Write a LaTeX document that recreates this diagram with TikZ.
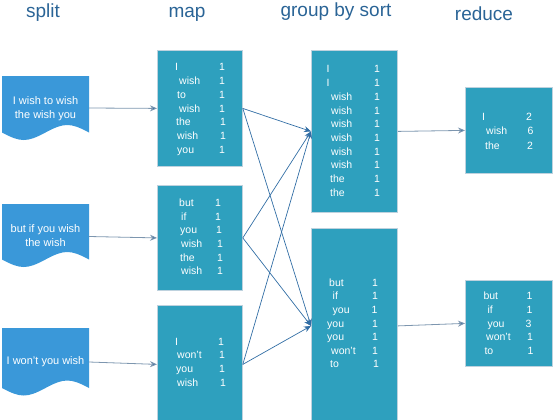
\documentclass[tikz,border=0pt]{standalone}
\usepackage{fontspec}
\setmainfont{Liberation Sans}
\usetikzlibrary{arrows.meta}
\definecolor{titleblue}{RGB}{42,100,150}
\definecolor{boxteal}{RGB}{46,160,190}
\definecolor{boxedge}{RGB}{190,210,222}
\definecolor{docblue}{RGB}{58,152,217}
\definecolor{arrowblue}{RGB}{50,110,165}
\definecolor{docline}{RGB}{125,150,175}
\tikzset{
  title/.style={text=titleblue, font=\fontsize{19}{21}\selectfont, inner sep=0pt},
  stagebox/.style={draw=boxedge, line width=0.8pt, fill=boxteal, anchor=north west, inner sep=0pt},
  doctext/.style={text=white, font=\fontsize{11}{13.5}\selectfont, align=center, inner sep=0pt},
  cell/.style={text=white, font=\fontsize{10.5}{12}\selectfont, inner sep=0pt, anchor=base west},
  docshape/.style={fill=docblue, draw=none},
  link/.style={draw=arrowblue, line width=0.7pt, -{Stealth[length=7pt,width=6pt]}},
  doclink/.style={draw=docline, line width=0.8pt, -{Stealth[length=7pt,width=6pt,fill=arrowblue]}}
}
\newcommand\docpath[2]{% top, bottom-mid
  \fill[docshape] (2,#1) -- (89,#1) -- (89,#2)
    .. controls (70.5,#2-10) and (64,#2-10) .. (45.5,#2)
    .. controls (27,#2+10) and (20.5,#2+10) .. (2,#2) -- cycle;}
\begin{document}
\begin{tikzpicture}[x=1pt,y=-1pt]
\useasboundingbox (0,0) rectangle (554,420);

% titles
\node[title] (tsplit) at (43,13) {split};
\node[title] (tmap) at (187,14) {map};
\node[title] (tgroup) at (336,12) {group by sort};
\node[title] (treduce) at (484,14) {reduce};

% documents (split)
\docpath{76}{132.5}
\docpath{204}{259.5}
\docpath{328}{388}
\node[doctext] (d1) at (45.5,108.5) {I wish to wish\\the wish you};
\node[doctext] (d2) at (45.5,235.5) {but if you wish\\the wish};
\node[doctext] (d3) at (45.5,362) {I won't you wish};
\coordinate (d1e) at (89,108);
\coordinate (d2e) at (89,236.5);
\coordinate (d3e) at (89,362);

% boxes
\node[stagebox, minimum width=85pt, minimum height=116pt] (m1) at (157,50) {};
\node[stagebox, minimum width=85pt, minimum height=105pt] (m2) at (157,185) {};
\node[stagebox, minimum width=85pt, minimum height=118pt] (m3) at (157,305) {};
\node[stagebox, minimum width=86pt, minimum height=162pt] (g1) at (311,50) {};
\node[stagebox, minimum width=86pt, minimum height=195pt] (g2) at (311,228) {};
\node[stagebox, minimum width=87pt, minimum height=86pt] (r1) at (465,87) {};
\node[stagebox, minimum width=87pt, minimum height=86pt] (r2) at (465,280) {};

% box contents
\foreach \w/\xw/\xn [count=\i] in {I/175/219, wish/179/219, to/177/219, wish/179/219, the/176/220, wish/177/220, you/177/219}
  {\node[cell] (m1w\i) at (\xw,{70.7+13.8*(\i-1)}) {\w};
   \node[cell] (m1n\i) at (\xn,{70.7+13.8*(\i-1)}) {1};}
\foreach \w/\xw/\xn [count=\i] in {but/179/215, if/181/215, you/180/216, wish/181/217, the/180/217, wish/181/217}
  {\node[cell] (m2w\i) at (\xw,{206.7+13.6*(\i-1)}) {\w};
   \node[cell] (m2n\i) at (\xn,{206.7+13.6*(\i-1)}) {1};}
\foreach \w/\xw/\xn [count=\i] in {I/175/218, won't/177/219, you/176/219, wish/177/220}
  {\node[cell] (m3w\i) at (\xw,{345+13.7*(\i-1)}) {\w};
   \node[cell] (m3n\i) at (\xn,{345+13.7*(\i-1)}) {1};}
\foreach \w/\xw/\xn [count=\i] in {I/326.5/374, I/326.5/374, wish/331/374, wish/331/374, wish/331/374, wish/331/374, wish/331/374, wish/331/374, the/330/374, the/330/374}
  {\node[cell] (g1w\i) at (\xw,{73+13.7*(\i-1)}) {\w};
   \node[cell] (g1n\i) at (\xn,{73+13.7*(\i-1)}) {1};}
\foreach \w/\xw/\xn [count=\i] in {but/329/372, if/332.5/372, you/332.5/371.5, you/327/372, you/327/372, won't/331/372, to/330/373}
  {\node[cell] (g2w\i) at (\xw,{286.3+13.6*(\i-1)}) {\w};
   \node[cell] (g2n\i) at (\xn,{286.3+13.6*(\i-1)}) {1};}
\foreach \w/\xw/\n/\xn [count=\i] in {I/482/2/526, wish/486/6/527.5, the/485/2/527}
  {\node[cell] (r1w\i) at (\xw,{120.7+14.2*(\i-1)}) {\w};
   \node[cell] (r1n\i) at (\xn,{120.7+14.2*(\i-1)}) {\n};}
\foreach \w/\xw/\n/\xn [count=\i] in {but/483.3/1/526.5, if/487.3/1/526.5, you/487.3/3/525.5, won't/486/1/527, to/484.3/1/527.5}
  {\node[cell] (r2w\i) at (\xw,{299.7+13.75*(\i-1)}) {\w};
   \node[cell] (r2n\i) at (\xn,{299.7+13.75*(\i-1)}) {\n};}

% connectors
\draw[doclink] (d1e) -- (m1.west);
\draw[doclink] (d2e) -- (m2.west);
\draw[doclink] (d3e) -- (m3.west);
\foreach \m in {m1,m2,m3}
  \foreach \g in {g1,g2}
    \draw[link] (\m.east) -- (\g.west);
\draw[doclink] (g1.east) -- (r1.west);
\draw[doclink] (g2.east) -- (r2.west);
\end{tikzpicture}
\end{document}
